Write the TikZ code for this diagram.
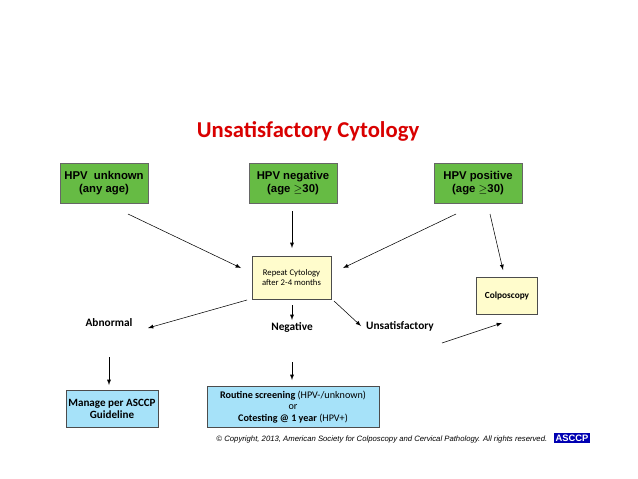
\documentclass[tikz,border=0pt]{standalone}
\usepackage{fontspec}
\setmainfont{Carlito}
\newfontfamily\arialf{Liberation Sans}
\begin{document}
\begin{tikzpicture}[x=0.75pt,y=-0.75pt,
 green/.style={draw=black!60,minimum width=66pt,minimum height=30pt,align=center,font=\arialf\bfseries\fontsize{8.5}{10}\selectfont,inner sep=1pt},
 yel/.style={draw=black!70,fill=yellow!20,align=center,inner sep=1pt},
 blu/.style={draw=black!70,fill=cyan!35,align=center,inner sep=1pt,font=\fontsize{8.3}{9.5}\selectfont\bfseries},
 lab/.style={font=\fontsize{8.5}{10}\selectfont\bfseries},
 arr/.style={-latex,thin}]
\useasboundingbox (0,0) rectangle (638,478);
\fill[white] (0,0) rectangle (638,478);
\node[font=\bfseries\fontsize{17}{19}\selectfont,text=red!85!black] (title) at (308,131) {Unsatisfactory Cytology};
\node[green,fill={rgb,255:red,102;green,187;blue,68}] (unk) at (104,183) {HPV\ \ unknown\\(any age)};
\node[green,fill={rgb,255:red,102;green,187;blue,68}] (neg) at (293,183) {HPV negative\\(age $\geq$30)};
\node[green,fill={rgb,255:red,102;green,187;blue,68}] (pos) at (478,183) {HPV positive\\(age $\geq$30)};
\node[yel,minimum width=59pt,minimum height=32pt,font=\fontsize{6.5}{8}\selectfont] (rep) at (291.5,277.5) {Repeat Cytology\\after 2-4 months};
\node[yel,minimum width=46pt,minimum height=28pt,font=\fontsize{7}{8}\selectfont\bfseries] (col) at (507,295.5) {Colposcopy};
\node[blu,minimum width=69pt,minimum height=28pt] (man) at (112,409) {Manage per ASCCP\\Guideline};
\node[blu,minimum width=129pt,minimum height=31pt,font=\fontsize{7.6}{8.8}\selectfont] (rout) at (293,407) {\textbf{Routine screening} (HPV-/unknown)\\or\\\textbf{Cotesting @ 1 year} (HPV+)};
\node[lab] (ab) at (109,323) {Abnormal};
\node[lab] (ng) at (292,327) {Negative};
\node[lab] (us) at (400,326) {Unsatisfactory};
\coordinate (a1) at (128,214); \coordinate (a1e) at (241,268);
\draw[arr] (a1) -- (a1e);
\coordinate (a2) at (292,211); \coordinate (a2e) at (292,248);
\draw[arr] (a2) -- (a2e);
\coordinate (a3) at (456,214); \coordinate (a3e) at (343,268);
\draw[arr] (a3) -- (a3e);
\coordinate (a4) at (490,214); \coordinate (a4e) at (503,270);
\draw[arr] (a4) -- (a4e);
\coordinate (b1) at (247,300); \coordinate (b1e) at (148,328);
\draw[arr] (b1) -- (b1e);
\coordinate (b2) at (292,305); \coordinate (b2e) at (292,320);
\draw[arr] (b2) -- (b2e);
\coordinate (b3) at (334,301); \coordinate (b3e) at (361,326);
\draw[arr] (b3) -- (b3e);
\coordinate (c1) at (442,343); \coordinate (c1e) at (502,323);
\draw[arr] (c1) -- (c1e);
\coordinate (d1) at (109,357); \coordinate (d1e) at (109,385);
\draw[arr] (d1) -- (d1e);
\coordinate (e1) at (292,362); \coordinate (e1e) at (292,380);
\draw[arr] (e1) -- (e1e);
\node[anchor=east,font=\arialf\itshape\fontsize{5.8}{7}\selectfont] (copy) at (552,439) {\copyright\ Copyright, 2013, American Society for Colposcopy and Cervical Pathology. All rights reserved.};
\node[fill=blue!70!black,text=white,font=\arialf\bfseries\fontsize{7}{8}\selectfont,inner sep=1pt] (logo) at (572,438) {ASCCP};
\end{tikzpicture}
\end{document}
